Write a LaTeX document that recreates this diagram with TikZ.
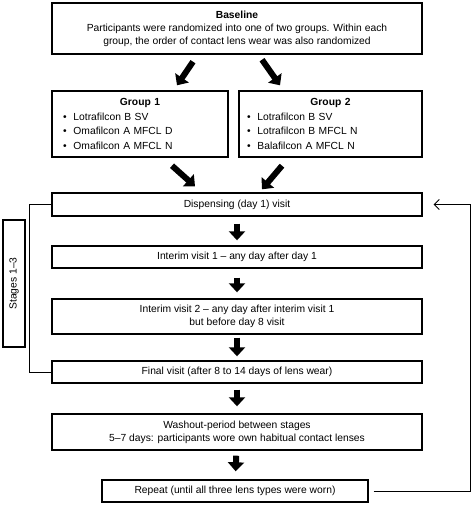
\documentclass[tikz,border=0pt]{standalone}
\usepackage{fontspec}
\setmainfont{Liberation Sans}
\usetikzlibrary{arrows.meta}

\tikzset{
  stagebox/.style={draw=black,line width=1.4pt,minimum width=370pt,inner sep=2pt,align=center,font=\fontsize{10.3}{13}\selectfont},
  groupbox/.style={draw=black,line width=1.4pt,minimum width=176pt,minimum height=66pt,text width=154pt,align=left,font=\fontsize{10.3}{14.5}\selectfont},
  blockarrow/.style={line width=6pt,-{Triangle[width=16pt,length=9pt]}},
  loopline/.style={line width=0.9pt}
}

\begin{document}
\begin{tikzpicture}[x=1pt,y=-1pt]
\path[use as bounding box] (0,0) rectangle (474,505);
\node[stagebox,minimum height=51pt] (base) at (237,28.5) {\textbf{Baseline}\\Participants were randomized into one of two groups. Within each\\group, the order of contact lens wear was also randomized};
\node[groupbox] (g1) at (140,124) {\hfil\textbf{Group 1}\hfil\\\textbullet\ \ Lotrafilcon B SV\\\textbullet\ \ Omafilcon A MFCL D\\\textbullet\ \ Omafilcon A MFCL N};
\node[groupbox,minimum width=183pt,text width=167pt] (g2) at (330.5,124) {\hfil\textbf{Group 2}\hfil\\\textbullet\ \ Lotrafilcon B SV\\\textbullet\ \ Lotrafilcon B MFCL N\\\textbullet\ \ Balafilcon A MFCL N};
\node[stagebox,minimum height=23pt] (disp) at (237,204.5) {Dispensing (day 1) visit};
\node[stagebox,minimum height=22pt] (int1) at (237,257) {Interim visit 1 -- any day after day 1};
\node[stagebox,minimum height=35pt] (int2) at (237,316.5) {Interim visit 2 -- any day after interim visit 1\\but before day 8 visit};
\node[stagebox,minimum height=22pt] (final) at (237,372) {Final visit (after 8 to 14 days of lens wear)};
\node[stagebox,minimum height=36pt] (wash) at (237,432) {Washout-period between stages\\5--7 days: participants wore own habitual contact lenses};
\node[stagebox,minimum width=266pt,minimum height=22pt] (rep) at (235,491) {Repeat (until all three lens types were worn)};
\node[draw=black,line width=1.4pt,rotate=90,minimum width=127pt,minimum height=22pt,inner sep=0pt,font=\fontsize{10.3}{12}\selectfont] (stages) at (14,283.5) {Stages 1--3};
% arrows
\draw[blockarrow] ([xshift=-44pt,yshift=-7pt]base.south) -- ([xshift=37pt,yshift=5pt]g1.north);
\draw[blockarrow] ([xshift=25pt,yshift=-5pt]base.south) -- ([xshift=-50.5pt,yshift=5pt]g2.north);
\draw[blockarrow] ([xshift=32pt,yshift=-8pt]g1.south) -- ([xshift=-42pt,yshift=6pt]disp.north);
\draw[blockarrow] ([xshift=-48.5pt,yshift=-8pt]g2.south) -- ([xshift=25pt,yshift=3pt]disp.north);
\draw[blockarrow,shorten <=7pt,shorten >=5pt] (disp) -- (int1);
\draw[blockarrow,shorten <=9pt,shorten >=6pt] (int1) -- (int2);
\draw[blockarrow,shorten <=3pt,shorten >=4pt] (int2) -- (final);
\draw[blockarrow,shorten <=6pt,shorten >=7pt] (final) -- (wash);
\draw[blockarrow,shorten <=5pt,shorten >=8pt] (wash) -- (rep);
% stage loop
\draw[loopline] (disp.west) -- ++(-22,0) |- (final.west);
\draw[loopline,-{Straight Barb[length=5pt,width=10pt]},shorten <=5pt,shorten >=11pt] (rep.east) -- ++(102,0) |- (disp.east);
\end{tikzpicture}
\end{document}
